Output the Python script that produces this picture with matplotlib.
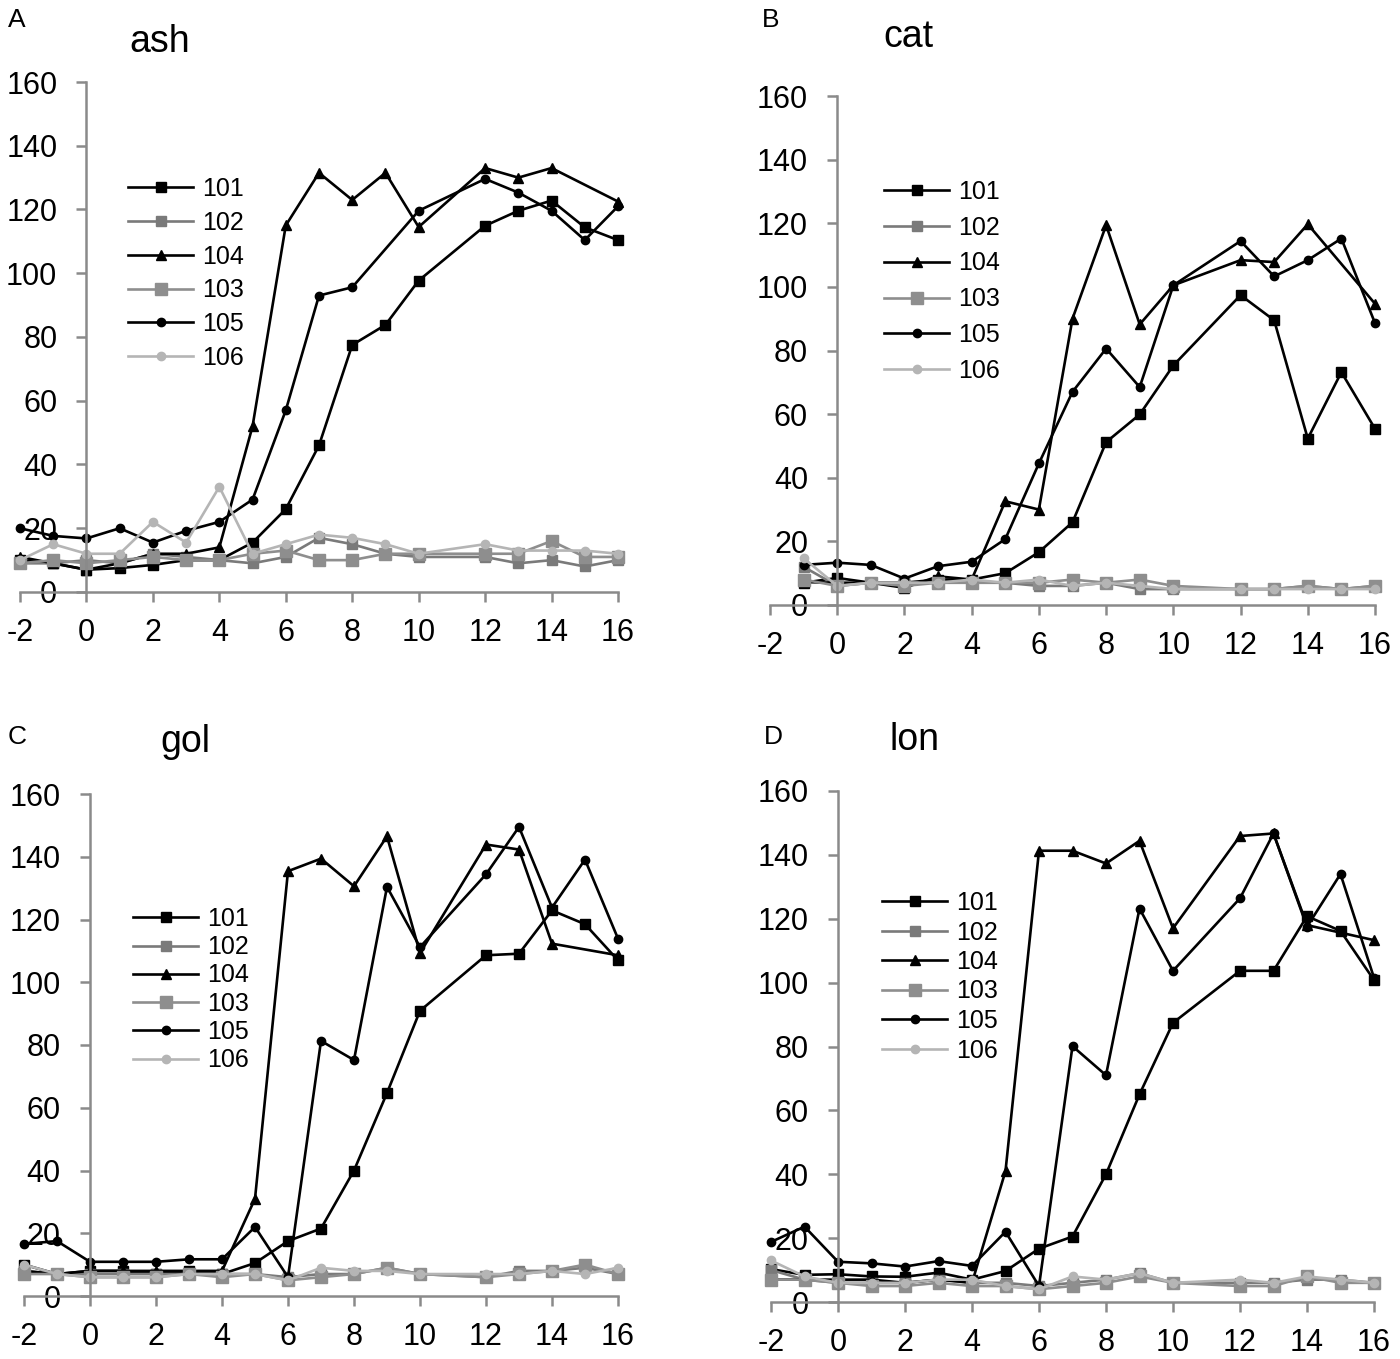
import numpy as np
import matplotlib
matplotlib.use("Agg")
import matplotlib.pyplot as plt

plt.rcParams['font.family'] = ['Liberation Sans', 'DejaVu Sans']
plt.rcParams['axes.unicode_minus'] = False

nan = np.nan
days = [-2, -1, 0, 1, 2, 3, 4, 5, 6, 7, 8, 9, 10, 12, 13, 14, 15, 16]
names = ['101', '102', '104', '103', '105', '106']

# ash
a101 = [10, 9, 7, 7.5, 8.5, 10, 10, 15.5, 26, 46, 77.5, 83.8, 97.7, 114.9, 119.6, 122.8, 114.4, 110.4]
a102 = [9, 9, 10, 9, 12, 11, 10, 9, 11, 17, 15, 12, 11, 11, 9, 10, 8, 10]
a104 = [11, 9, 7, 9, 12, 12, 14, 52, 115, 131.5, 123, 131.5, 114.5, 133, 130, 133, nan, 122.5]
a103 = [9, 10, 9, 10, 11, 10, 10, 12, 13, 10, 10, 12, 12, 12, 12, 16, 11, 11]
a105 = [20, 17.6, 16.8, 20, 15.5, 19.2, 22, 29, 57, 93, 95.6, nan, 119.6, 129.6, 125.3, 119.6, 110.4, 121]
a106 = [10, 15, 12, 12, 22, 15.5, 33, 12, 15, 18, 17, 15, 12, 15, 13, 13, 13, 12]

# cat
b101 = [nan, 7, 8.5, 7, 7, 8, 8, 10, 16.6, 26, 51.2, 59.9, 75.3, 97.4, 89.5, 52.3, 73.2, 55.4]
b102 = [nan, 12, 6, 7, 7, 7, 7, 7, 6, 6, 7, 5, 5, 5, 5, 6, 5, 6]
b104 = [nan, 7.2, 7, 7, 5.4, 9, 8, 32.6, 30, 90, 119.4, 88.2, 100.5, 108.4, 107.8, 119.7, nan, 94.7]
b103 = [nan, 8, 6, 7, 6, 7, 7, 7, 7, 8, 7, 8, 6, 5, 5, 6, 5, 6]
b105 = [nan, 12.6, 13.3, 12.6, 8.3, 12.2, 13.6, 20.7, 44.5, 67, 80.6, 68.5, 100.5, 114.4, 103.3, 108.4, 115.2, 88.6]
b106 = [nan, 14.7, 6, 7, 7, 7, 8, 7, 8, 6, 7, 6, 5, 5, 5, 5, 5, 5]

# gol
c101 = [10, 7, 8, 8, 7, 8, 7, 10.5, 17.5, 21.5, 40, 64.7, 90.9, 108.6, 109.1, 122.9, 118.5, 107]
c102 = [8, 7, 7, 7, 7, 7, 7, 7, 6, 7, 7, 9, 7, 6, 8, 8, 9, 7]
c104 = [8, 7, 8, 8, 8, 8, 8, 31, 135.4, 139.4, 130.6, 146.5, 109.3, 143.9, 142.3, 112.3, nan, 108.6]
c103 = [7, 7, 6, 6, 6, 7, 6, 7, 5, 6, 7, 9, 7, 6, 7, 8, 10, 7]
c105 = [16.6, 17.5, 10.9, 10.9, 10.9, 11.7, 11.7, 22, 6, 81.3, 75.2, 130.4, 111.2, 134.4, 149.5, 123.8, 139.1, 113.9]
c106 = [10, 7, 6, 6, 6, 7, 7, 7, 5, 9, 8, 8, 7, 7, 7, 8, 7, 9]

# lon
d101 = [10.3, 8.5, 8.7, 8, 7.9, 9.2, 7, 9.7, 16.7, 20.5, 40, 65, 87.4, 103.7, 103.7, 120.8, 116.2, 100.8]
d102 = [10, 7, 6, 6, 6, 7, 6, 6, 5, 6, 7, 9, 6, 6, 6, 7, 7, 6]
d104 = [7, 7, 7, 7, 6, 7, 6, 41, 141.3, 141.3, 137.3, 144.4, 117, 145.9, 146.7, 118, nan, 113.3]
d103 = [7, 7, 6, 5, 5, 6, 5, 5, 4, 5, 6, 8, 6, 5, 5, 8, 6, 6]
d105 = [18.8, 23.6, 12.6, 12.1, 11.1, 12.8, 11.3, 22, 5, 80.1, 71, 123.2, 103.7, 126.4, 146.7, 117.5, 134, 101.5]
d106 = [13, 8, 6, 6, 6, 7, 7, 5, 4, 8, 7, 9, 6, 7, 6, 8, 7, 6]

# marker / colour per series, same order as names
styles = [
    dict(color='black', marker='s', ms=6.5),
    dict(color='#7a7a7a', marker='s', ms=6.5),
    dict(color='black', marker='^', ms=7.5),
    dict(color='#8e8e8e', marker='s', ms=8),
    dict(color='black', marker='o', ms=6),
    dict(color='#b5b5b5', marker='o', ms=6),
]

W, H = 1400, 1359
fig = plt.figure(figsize=(W / 100, H / 100), dpi=100)

# panel: letter, title, series, axis px (x-2, x16, y0, y160), letter pos, title pos, legend pos, legend spacing
panels = [
    ('A', 'ash', [a101, a102, a104, a103, a105, a106], (20, 618, 592, 82), (8, 20), (160, 42), (128, 177), 0.39),
    ('B', 'cat', [b101, b102, b104, b103, b105, b106], (770, 1375, 605, 96), (762, 20), (908, 37), (884, 180), 0.47),
    ('C', 'gol', [c101, c102, c104, c103, c105, c106], (24, 618, 1296, 794), (8, 737), (185, 742), (133, 907), 0.17),
    ('D', 'lon', [d101, d102, d104, d103, d105, d106], (771, 1374, 1302, 791), (764, 737), (915, 740), (882, 891), 0.22),
]

for letter, title, series, box, lpos, tpos, legpos, lsp in panels:
    x0, x1, y0, y1 = box
    ax = fig.add_axes([x0 / W, 1 - y0 / H, (x1 - x0) / W, (y0 - y1) / H])
    for name, vals, st in zip(names, series, styles):
        v = np.array(vals, dtype=float)
        d = np.array(days, dtype=float)
        ok = ~np.isnan(v)
        ax.plot(d[ok], v[ok], color=st['color'], marker=st['marker'], ms=st['ms'],
                lw=1.9, label=name, clip_on=False)
    ax.set_xlim(-2, 16)
    ax.set_ylim(0, 160)
    ax.set_xticks(range(-2, 17, 2))
    ax.set_yticks(range(0, 161, 20))
    ax.spines['left'].set_position(('data', 0))
    ax.spines['top'].set_visible(False)
    ax.spines['right'].set_visible(False)
    for s in ('left', 'bottom'):
        ax.spines[s].set_color('#8a8a8a')
        ax.spines[s].set_linewidth(1.8)
    ax.tick_params(axis='both', colors='#8a8a8a', labelcolor='black', labelsize=22,
                   length=7, width=1.8)
    ax.tick_params(axis='y', pad=14)
    ax.tick_params(axis='x', pad=12)
    ax.patch.set_alpha(0)
    ax.legend(loc='upper left', bbox_to_anchor=(legpos[0] / W, 1 - legpos[1] / H),
              bbox_transform=fig.transFigure, frameon=False, fontsize=18,
              handlelength=2.6, handletextpad=0.35, borderpad=0, borderaxespad=0,
              labelspacing=lsp, numpoints=1)
    fig.text(lpos[0] / W, 1 - lpos[1] / H, letter, fontsize=19, ha='left', va='center')
    fig.text(tpos[0] / W, 1 - tpos[1] / H, title, fontsize=27, ha='center', va='center')

fig.savefig('out.png', dpi=100)
